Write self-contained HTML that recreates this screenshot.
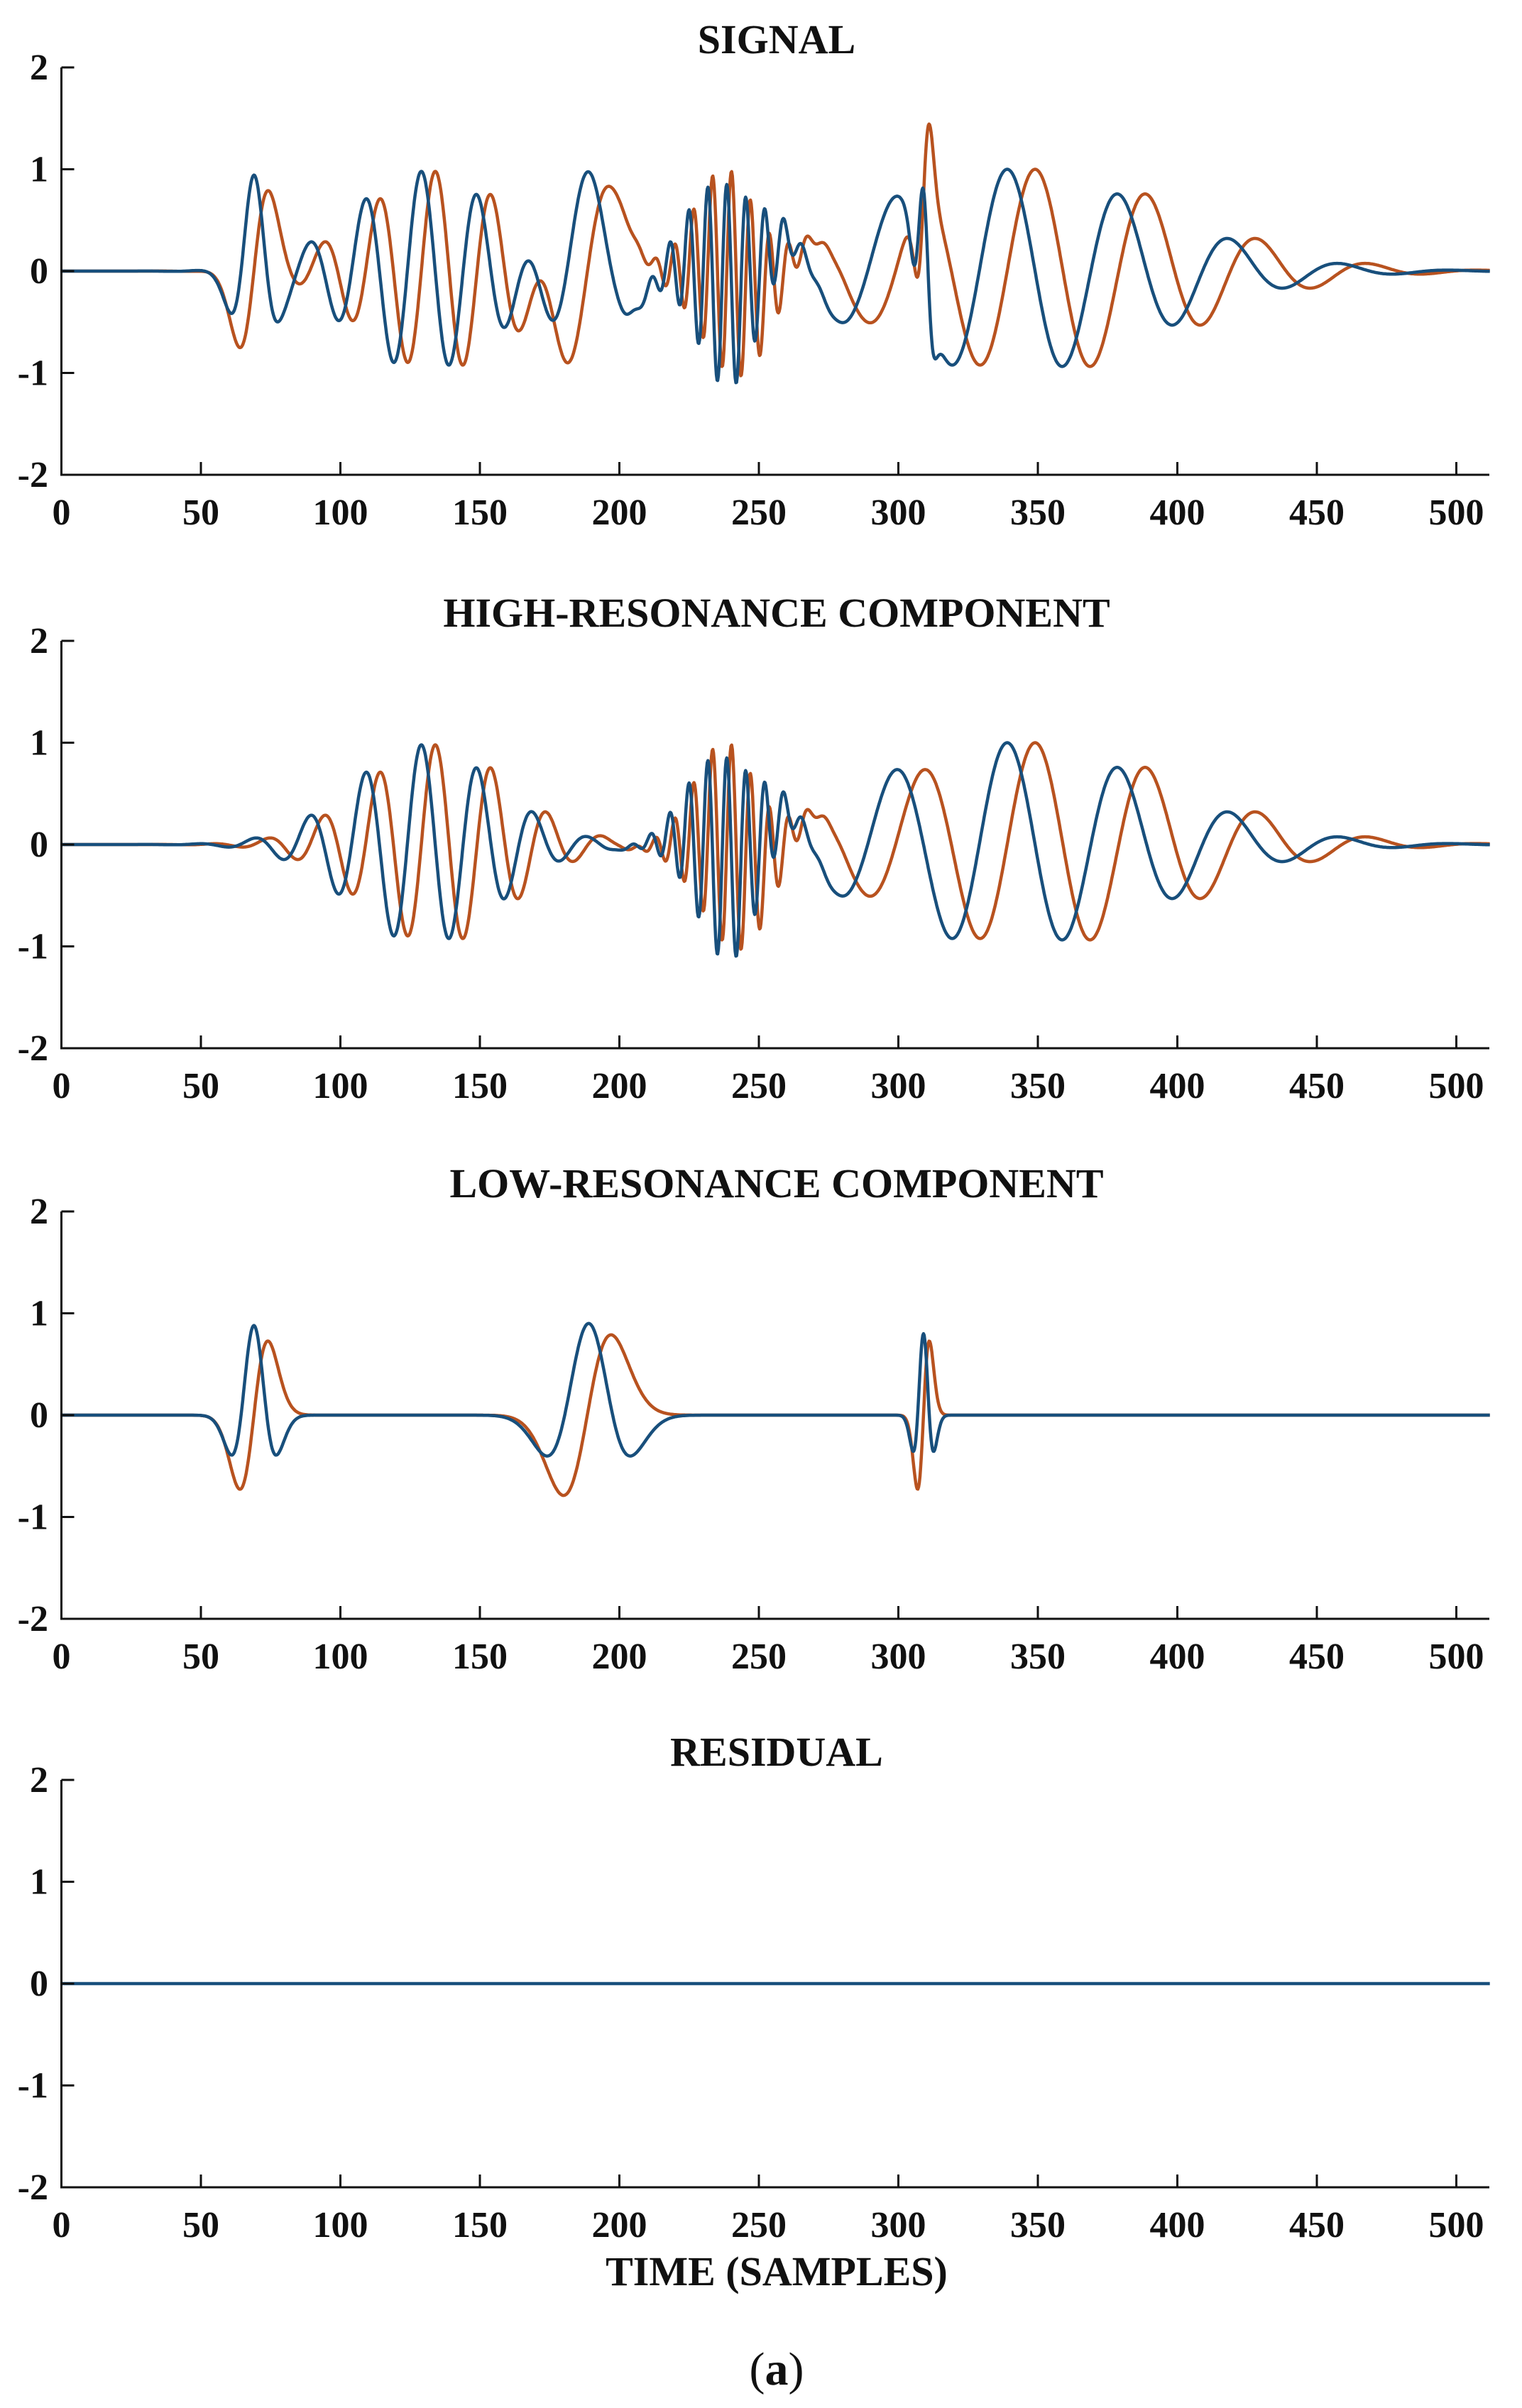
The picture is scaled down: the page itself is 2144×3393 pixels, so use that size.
<!DOCTYPE html>
<html><head><meta charset="utf-8">
<style>
html,body{margin:0;padding:0;background:#fff;}
svg{display:block;}
text{font-family:"Liberation Serif",serif;font-weight:bold;fill:#111;}
</style></head>
<body>
<svg id="s" width="2144" height="3393" viewBox="0 0 2144 3393" xmlns="http://www.w3.org/2000/svg">
<rect width="2144" height="3393" fill="#fff"/>
<g id="g"></g>
<text x="1094" y="3220" font-size="58" text-anchor="middle">TIME (SAMPLES)</text>
<text x="1094" y="3360" font-size="66" text-anchor="middle" style="font-weight:normal">(<tspan style="font-weight:bold">a</tspan>)</text>
</svg>
<script>
const X0=86.5, SX=3.93, XEND=2098, H=574;
const tops=[95,903,1707,2508];
const titles=["SIGNAL","HIGH-RESONANCE COMPONENT","LOW-RESONANCE COMPONENT","RESIDUAL"];
const BLUE="#184f7c", ORANGE="#b8521f";
function burst(t,c,s,P,t0,shift){
  const tt=t-shift;
  return Math.exp(-(tt-c)*(tt-c)/(2*s*s))*Math.cos(2*Math.PI*(tt-t0)/P);
}
function high(t,orange){
  const k=orange?1:0;
  return 0.98*burst(t,130,26,20,129,k*5)
       + 1.0*burst(t,238,12,6.8,238.5,k*1.7)
       + 1.0*burst(t,340,52,40,339,k*10);
}
function ricker(t,c,s,A){const u=(t-c)/s;return A*(1-u*u)*Math.exp(-u*u/2);}
function odd(t,c,s,A){const u=(t-c)/s;return A*u*Math.exp(-u*u/2);}
function low(t,orange){
  if(!orange) return ricker(t,69,4.6,0.88)+ricker(t,189,8.6,0.9)+ricker(t,309,2.1,0.8);
  return odd(t,69,5,1.2)+odd(t,188.5,8.5,1.3)+odd(t,309,2.1,1.2);
}
const fns=[
  (t,o)=>high(t,o)+low(t,o),
  (t,o)=>high(t,o),
  (t,o)=>low(t,o),
  (t,o)=>0
];
let out="";
tops.forEach((top,i)=>{
  const bot=top+H, yz=top+H/2, sy=H/4;
  out+=`<text x="1094" y="${top-20}" font-size="58" text-anchor="middle">${titles[i]}</text>`;
  const series = i===3?[false]:[true,false];
  series.forEach(o=>{
    let d="";
    for(let t=0;t<=512;t+=0.25){
      const x=X0+t*SX, y=yz-fns[i](t,o)*sy;
      d+=(t===0?"M":"L")+x.toFixed(1)+" "+y.toFixed(1);
    }
    out+=`<path d="${d}" fill="none" stroke="${o?ORANGE:BLUE}" stroke-width="4.5" stroke-linejoin="round"/>`;
  });
  out+=`<path d="M${X0} ${top}V${bot}H${XEND}" fill="none" stroke="#111" stroke-width="3"/>`;
  for(let v=-2;v<=2;v++){
    const y=yz-v*sy;
    out+=`<line x1="${X0}" y1="${y}" x2="${X0+18}" y2="${y}" stroke="#111" stroke-width="3"/>`;
    out+=`<text x="68" y="${y+17}" font-size="52" text-anchor="end">${v}</text>`;
  }
  for(let v=0;v<=500;v+=50){
    const x=X0+v*SX;
    out+=`<line x1="${x}" y1="${bot}" x2="${x}" y2="${bot-18}" stroke="#111" stroke-width="3"/>`;
    out+=`<text x="${x}" y="${bot+70}" font-size="52" text-anchor="middle">${v}</text>`;
  }
});
document.getElementById("g").innerHTML=out;
</script>
</body></html>
